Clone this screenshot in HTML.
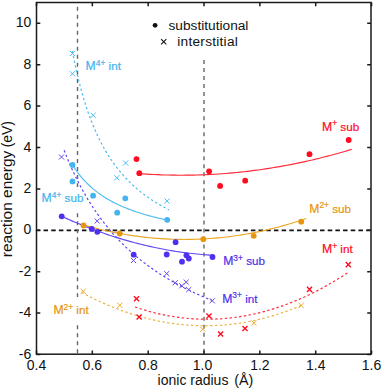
<!DOCTYPE html>
<html><head><meta charset="utf-8"><style>
html,body{margin:0;padding:0;background:#fff;}
svg{display:block;font-family:"Liberation Sans",sans-serif;}
</style></head><body>
<svg width="382" height="389" viewBox="0 0 382 389" fill="#111">
<line x1="35.87" y1="230.3" x2="371.0" y2="230.3" stroke="#111" stroke-width="1.7" stroke-dasharray="4.5 3.18"/>
<line x1="77.5" y1="6.7" x2="77.5" y2="187" stroke="#5a6b6b" stroke-width="1.4" stroke-dasharray="4 4.02"/>
<line x1="77.5" y1="213.3" x2="77.5" y2="354.2" stroke="#5a6b6b" stroke-width="1.4" stroke-dasharray="4 4"/>
<line x1="204" y1="60" x2="204" y2="354.2" stroke="#5a6b6b" stroke-width="1.4" stroke-dasharray="4 4.02"/>
<rect x="50" y="297" width="42" height="28" fill="#fff"/>
<path d="M72.40,51.14 L74.04,59.53 L75.67,67.32 L77.31,74.59 L78.95,81.37 L80.59,87.73 L82.22,93.69 L83.86,99.30 L85.50,104.58 L87.14,109.56 L88.77,114.26 L90.41,118.72 L92.05,122.94 L93.68,126.95 L95.32,130.76 L96.96,134.39 L98.60,137.84 L100.23,141.14 L101.87,144.29 L103.51,147.30 L105.15,150.18 L106.78,152.93 L108.42,155.58 L110.06,158.11 L111.69,160.55 L113.33,162.89 L114.97,165.14 L116.61,167.31 L118.24,169.40 L119.88,171.41 L121.52,173.35 L123.16,175.23 L124.79,177.03 L126.43,178.78 L128.07,180.47 L129.71,182.11 L131.34,183.69 L132.98,185.23 L134.62,186.71 L136.25,188.15 L137.89,189.55 L139.53,190.90 L141.17,192.22 L142.80,193.50 L144.44,194.74 L146.08,195.94 L147.72,197.12 L149.35,198.26 L150.99,199.37 L152.63,200.45 L154.26,201.50 L155.90,202.53 L157.54,203.53 L159.18,204.50 L160.81,205.45 L162.45,206.38 L164.09,207.28 L165.73,208.17 L167.36,209.03 L169.00,209.87" fill="none" stroke="#4cbcf2" stroke-width="1.2" stroke-dasharray="2.4 2.4"/>
<path d="M72.50,164.89 L74.11,167.40 L75.71,169.77 L77.32,172.01 L78.92,174.13 L80.53,176.13 L82.13,178.04 L83.74,179.85 L85.34,181.58 L86.95,183.22 L88.55,184.79 L90.16,186.29 L91.76,187.72 L93.37,189.09 L94.97,190.40 L96.58,191.66 L98.18,192.87 L99.79,194.03 L101.39,195.14 L103.00,196.21 L104.60,197.24 L106.21,198.24 L107.81,199.19 L109.42,200.12 L111.02,201.01 L112.63,201.87 L114.23,202.70 L115.84,203.51 L117.44,204.29 L119.05,205.04 L120.65,205.77 L122.26,206.48 L123.86,207.16 L125.47,207.83 L127.07,208.47 L128.68,209.10 L130.28,209.71 L131.89,210.30 L133.49,210.87 L135.10,211.43 L136.70,211.98 L138.31,212.51 L139.91,213.02 L141.52,213.52 L143.12,214.01 L144.73,214.49 L146.33,214.95 L147.94,215.40 L149.54,215.84 L151.15,216.28 L152.75,216.70 L154.36,217.11 L155.96,217.51 L157.57,217.90 L159.17,218.28 L160.78,218.65 L162.38,219.02 L163.99,219.38 L165.59,219.73 L167.20,220.07" fill="none" stroke="#4cbcf2" stroke-width="1.15"/>
<path d="M139.30,173.62 L142.90,173.88 L146.50,174.12 L150.11,174.33 L153.71,174.52 L157.31,174.69 L160.91,174.83 L164.51,174.95 L168.11,175.05 L171.72,175.12 L175.32,175.17 L178.92,175.20 L182.52,175.21 L186.12,175.19 L189.72,175.15 L193.33,175.08 L196.93,174.99 L200.53,174.88 L204.13,174.75 L207.73,174.59 L211.33,174.41 L214.94,174.21 L218.54,173.98 L222.14,173.73 L225.74,173.46 L229.34,173.16 L232.94,172.84 L236.55,172.50 L240.15,172.13 L243.75,171.74 L247.35,171.33 L250.95,170.89 L254.55,170.43 L258.16,169.95 L261.76,169.45 L265.36,168.92 L268.96,168.37 L272.56,167.79 L276.16,167.19 L279.77,166.57 L283.37,165.93 L286.97,165.26 L290.57,164.57 L294.17,163.86 L297.77,163.12 L301.38,162.36 L304.98,161.57 L308.58,160.77 L312.18,159.94 L315.78,159.09 L319.38,158.21 L322.99,157.31 L326.59,156.39 L330.19,155.44 L333.79,154.47 L337.39,153.48 L340.99,152.46 L344.60,151.43 L348.20,150.36 L351.80,149.28" fill="none" stroke="#ff2a3a" stroke-width="1.15"/>
<path d="M81.00,224.20 L84.82,225.30 L88.64,226.37 L92.46,227.38 L96.27,228.36 L100.09,229.30 L103.91,230.20 L107.73,231.05 L111.55,231.86 L115.37,232.63 L119.19,233.36 L123.01,234.05 L126.82,234.70 L130.64,235.31 L134.46,235.87 L138.28,236.40 L142.10,236.88 L145.92,237.32 L149.74,237.72 L153.55,238.08 L157.37,238.39 L161.19,238.67 L165.01,238.90 L168.83,239.10 L172.65,239.25 L176.47,239.36 L180.28,239.43 L184.10,239.45 L187.92,239.44 L191.74,239.38 L195.56,239.29 L199.38,239.15 L203.20,238.97 L207.02,238.75 L210.83,238.49 L214.65,238.18 L218.47,237.84 L222.29,237.45 L226.11,237.03 L229.93,236.56 L233.75,236.05 L237.56,235.50 L241.38,234.90 L245.20,234.27 L249.02,233.59 L252.84,232.88 L256.66,232.12 L260.48,231.32 L264.29,230.48 L268.11,229.60 L271.93,228.67 L275.75,227.71 L279.57,226.70 L283.39,225.66 L287.21,224.57 L291.03,223.44 L294.84,222.27 L298.66,221.05 L302.48,219.80 L306.30,218.50" fill="none" stroke="#eaa826" stroke-width="1.15"/>
<path d="M61.70,216.32 L64.25,217.49 L66.81,218.63 L69.36,219.76 L71.91,220.87 L74.46,221.96 L77.02,223.03 L79.57,224.09 L82.12,225.13 L84.67,226.15 L87.23,227.16 L89.78,228.15 L92.33,229.12 L94.88,230.07 L97.44,231.01 L99.99,231.93 L102.54,232.83 L105.09,233.72 L107.65,234.58 L110.20,235.43 L112.75,236.27 L115.30,237.08 L117.86,237.88 L120.41,238.66 L122.96,239.43 L125.51,240.17 L128.07,240.90 L130.62,241.61 L133.17,242.31 L135.72,242.98 L138.28,243.64 L140.83,244.29 L143.38,244.91 L145.93,245.52 L148.49,246.11 L151.04,246.68 L153.59,247.24 L156.14,247.78 L158.70,248.30 L161.25,248.80 L163.80,249.29 L166.35,249.76 L168.91,250.21 L171.46,250.65 L174.01,251.07 L176.56,251.47 L179.12,251.85 L181.67,252.22 L184.22,252.56 L186.77,252.90 L189.33,253.21 L191.88,253.51 L194.43,253.79 L196.98,254.05 L199.54,254.29 L202.09,254.52 L204.64,254.73 L207.19,254.92 L209.75,255.10 L212.30,255.26" fill="none" stroke="#6248f0" stroke-width="1.15"/>
<path d="M64.10,150.30 L66.61,156.60 L69.12,162.58 L71.64,168.27 L74.15,173.69 L76.66,178.87 L79.17,183.81 L81.68,188.53 L84.19,193.05 L86.71,197.38 L89.22,201.53 L91.73,205.51 L94.24,209.34 L96.75,213.01 L99.27,216.55 L101.78,219.95 L104.29,223.23 L106.80,226.39 L109.31,229.44 L111.83,232.38 L114.34,235.22 L116.85,237.96 L119.36,240.62 L121.87,243.19 L124.38,245.67 L126.90,248.08 L129.41,250.41 L131.92,252.67 L134.43,254.87 L136.94,257.00 L139.46,259.06 L141.97,261.07 L144.48,263.02 L146.99,264.91 L149.50,266.75 L152.02,268.55 L154.53,270.29 L157.04,271.99 L159.55,273.64 L162.06,275.25 L164.57,276.82 L167.09,278.35 L169.60,279.85 L172.11,281.30 L174.62,282.72 L177.13,284.11 L179.65,285.46 L182.16,286.78 L184.67,288.07 L187.18,289.34 L189.69,290.57 L192.21,291.77 L194.72,292.95 L197.23,294.11 L199.74,295.23 L202.25,296.34 L204.76,297.42 L207.28,298.48 L209.79,299.51 L212.30,300.53" fill="none" stroke="#6248f0" stroke-width="1.2" stroke-dasharray="2.4 2.4"/>
<path d="M135.00,307.04 L138.62,308.24 L142.23,309.38 L145.85,310.45 L149.46,311.46 L153.08,312.41 L156.69,313.30 L160.31,314.13 L163.92,314.89 L167.54,315.59 L171.15,316.23 L174.77,316.81 L178.38,317.33 L182.00,317.79 L185.61,318.18 L189.23,318.51 L192.84,318.78 L196.46,318.99 L200.07,319.14 L203.69,319.22 L207.31,319.25 L210.92,319.21 L214.54,319.11 L218.15,318.95 L221.77,318.73 L225.38,318.45 L229.00,318.10 L232.61,317.70 L236.23,317.23 L239.84,316.70 L243.46,316.11 L247.07,315.46 L250.69,314.74 L254.30,313.97 L257.92,313.13 L261.53,312.24 L265.15,311.28 L268.76,310.26 L272.38,309.18 L275.99,308.04 L279.61,306.84 L283.23,305.57 L286.84,304.25 L290.46,302.86 L294.07,301.42 L297.69,299.91 L301.30,298.34 L304.92,296.71 L308.53,295.02 L312.15,293.27 L315.76,291.45 L319.38,289.58 L322.99,287.65 L326.61,285.65 L330.22,283.59 L333.84,281.48 L337.45,279.30 L341.07,277.06 L344.68,274.76 L348.30,272.40" fill="none" stroke="#ff2a3a" stroke-width="1.2" stroke-dasharray="2.4 2.4"/>
<path d="M81.50,292.41 L85.22,294.39 L88.95,296.31 L92.67,298.16 L96.39,299.96 L100.12,301.70 L103.84,303.37 L107.57,304.99 L111.29,306.54 L115.01,308.04 L118.74,309.47 L122.46,310.85 L126.18,312.16 L129.91,313.41 L133.63,314.60 L137.36,315.73 L141.08,316.80 L144.80,317.81 L148.53,318.76 L152.25,319.65 L155.97,320.48 L159.70,321.25 L163.42,321.96 L167.15,322.60 L170.87,323.19 L174.59,323.72 L178.32,324.18 L182.04,324.59 L185.76,324.93 L189.49,325.22 L193.21,325.44 L196.94,325.60 L200.66,325.71 L204.38,325.75 L208.11,325.73 L211.83,325.65 L215.55,325.51 L219.28,325.31 L223.00,325.05 L226.73,324.73 L230.45,324.35 L234.17,323.91 L237.90,323.40 L241.62,322.84 L245.34,322.22 L249.07,321.53 L252.79,320.79 L256.52,319.99 L260.24,319.12 L263.96,318.19 L267.69,317.21 L271.41,316.16 L275.13,315.05 L278.86,313.89 L282.58,312.66 L286.31,311.37 L290.03,310.02 L293.75,308.61 L297.48,307.14 L301.20,305.61" fill="none" stroke="#ebb03e" stroke-width="1.15" stroke-dasharray="2.4 2.4"/>
<circle cx="72.5" cy="164.9" r="2.9" fill="#44b4ef"/>
<circle cx="72.5" cy="181.4" r="2.9" fill="#44b4ef"/>
<circle cx="93.1" cy="195.7" r="2.9" fill="#44b4ef"/>
<circle cx="125.3" cy="198.3" r="2.9" fill="#44b4ef"/>
<circle cx="117.2" cy="212.7" r="2.9" fill="#44b4ef"/>
<circle cx="167.2" cy="219.8" r="2.9" fill="#44b4ef"/>
<path d="M69.85,50.85 L74.95,55.95 M69.85,55.95 L74.95,50.85" stroke="#4cbcf2" stroke-width="1.0" fill="none"/>
<path d="M69.85,71.15 L74.95,76.25 M69.85,76.25 L74.95,71.15" stroke="#4cbcf2" stroke-width="1.0" fill="none"/>
<path d="M90.65,112.75 L95.75,117.85 M90.65,117.85 L95.75,112.75" stroke="#4cbcf2" stroke-width="1.0" fill="none"/>
<path d="M123.05,160.45 L128.15,165.55 M123.05,165.55 L128.15,160.45" stroke="#4cbcf2" stroke-width="1.0" fill="none"/>
<path d="M114.25,175.25 L119.35,180.35 M114.25,180.35 L119.35,175.25" stroke="#4cbcf2" stroke-width="1.0" fill="none"/>
<path d="M164.55,198.55 L169.65,203.65 M164.55,203.65 L169.65,198.55" stroke="#4cbcf2" stroke-width="1.0" fill="none"/>
<circle cx="136.5" cy="159.1" r="2.9" fill="#ff0a1e"/>
<circle cx="139.3" cy="173.2" r="2.9" fill="#ff0a1e"/>
<circle cx="209.1" cy="171.3" r="2.9" fill="#ff0a1e"/>
<circle cx="220.1" cy="185.9" r="2.9" fill="#ff0a1e"/>
<circle cx="245.2" cy="180.7" r="2.9" fill="#ff0a1e"/>
<circle cx="309.5" cy="154.2" r="2.9" fill="#ff0a1e"/>
<circle cx="348.7" cy="140" r="2.9" fill="#ff0a1e"/>
<path d="M133.95,296.15 L139.05,301.25 M133.95,301.25 L139.05,296.15" stroke="#ff0a1e" stroke-width="1.35" fill="none"/>
<path d="M136.55,314.45 L141.65,319.55 M136.55,319.55 L141.65,314.45" stroke="#ff0a1e" stroke-width="1.35" fill="none"/>
<path d="M206.45,313.45 L211.55,318.55 M206.45,318.55 L211.55,313.45" stroke="#ff0a1e" stroke-width="1.35" fill="none"/>
<path d="M218.05,331.45 L223.15,336.55 M218.05,336.55 L223.15,331.45" stroke="#ff0a1e" stroke-width="1.35" fill="none"/>
<path d="M242.45,325.95 L247.55,331.05 M242.45,331.05 L247.55,325.95" stroke="#ff0a1e" stroke-width="1.35" fill="none"/>
<path d="M306.95,286.85 L312.05,291.95 M306.95,291.95 L312.05,286.85" stroke="#ff0a1e" stroke-width="1.35" fill="none"/>
<path d="M345.75,262.05 L350.85,267.15 M345.75,267.15 L350.85,262.05" stroke="#ff0a1e" stroke-width="1.35" fill="none"/>
<circle cx="83.5" cy="225.5" r="2.9" fill="#e6960c"/>
<circle cx="119.7" cy="233.5" r="2.9" fill="#e6960c"/>
<circle cx="203.3" cy="239.2" r="2.9" fill="#e6960c"/>
<circle cx="253.7" cy="235.8" r="2.9" fill="#e6960c"/>
<circle cx="301.2" cy="221.7" r="2.9" fill="#e6960c"/>
<path d="M80.65,288.75 L85.75,293.85 M80.65,293.85 L85.75,288.75" stroke="#eaa826" stroke-width="1.0" fill="none"/>
<path d="M117.25,302.75 L122.35,307.85 M117.25,307.85 L122.35,302.75" stroke="#eaa826" stroke-width="1.0" fill="none"/>
<path d="M200.25,326.65 L205.35,331.75 M200.25,331.75 L205.35,326.65" stroke="#eaa826" stroke-width="1.0" fill="none"/>
<path d="M251.25,320.45 L256.35,325.55 M251.25,325.55 L256.35,320.45" stroke="#eaa826" stroke-width="1.0" fill="none"/>
<path d="M298.65,302.85 L303.75,307.95 M298.65,307.95 L303.75,302.85" stroke="#eaa826" stroke-width="1.0" fill="none"/>
<circle cx="61.7" cy="216.3" r="2.9" fill="#4f30ee"/>
<circle cx="91.8" cy="228.9" r="2.9" fill="#4f30ee"/>
<circle cx="97.3" cy="231.8" r="2.9" fill="#4f30ee"/>
<circle cx="133.7" cy="254.7" r="2.9" fill="#4f30ee"/>
<circle cx="175.6" cy="242.2" r="2.9" fill="#4f30ee"/>
<circle cx="166.7" cy="254.5" r="2.9" fill="#4f30ee"/>
<circle cx="186.4" cy="255.3" r="2.9" fill="#4f30ee"/>
<circle cx="188.8" cy="258.5" r="2.9" fill="#4f30ee"/>
<circle cx="182" cy="261.7" r="2.9" fill="#4f30ee"/>
<circle cx="212.5" cy="257" r="2.9" fill="#4f30ee"/>
<path d="M58.95,154.45 L64.05,159.55 M58.95,159.55 L64.05,154.45" stroke="#6248f0" stroke-width="1.0" fill="none"/>
<path d="M94.65,218.45 L99.75,223.55 M94.65,223.55 L99.75,218.45" stroke="#6248f0" stroke-width="1.0" fill="none"/>
<path d="M130.95,257.95 L136.05,263.05 M130.95,263.05 L136.05,257.95" stroke="#6248f0" stroke-width="1.0" fill="none"/>
<path d="M164.15,271.05 L169.25,276.15 M164.15,276.15 L169.25,271.05" stroke="#6248f0" stroke-width="1.0" fill="none"/>
<path d="M172.65,280.25 L177.75,285.35 M172.65,285.35 L177.75,280.25" stroke="#6248f0" stroke-width="1.0" fill="none"/>
<path d="M179.25,283.25 L184.35,288.35 M179.25,288.35 L184.35,283.25" stroke="#6248f0" stroke-width="1.0" fill="none"/>
<path d="M183.65,279.55 L188.75,284.65 M183.65,284.65 L188.75,279.55" stroke="#6248f0" stroke-width="1.0" fill="none"/>
<path d="M186.15,287.05 L191.25,292.15 M186.15,292.15 L191.25,287.05" stroke="#6248f0" stroke-width="1.0" fill="none"/>
<path d="M209.75,298.25 L214.85,303.35 M209.75,303.35 L214.85,298.25" stroke="#6248f0" stroke-width="1.0" fill="none"/>
<rect x="36.5" y="2.5" width="334.5" height="351.7" fill="none" stroke="#1a1a1a" stroke-width="1.5"/>
<path d="M36.5,354.50 h3.8 M371.0,354.50 h-3.8 M36.5,313.10 h3.8 M371.0,313.10 h-3.8 M36.5,271.70 h3.8 M371.0,271.70 h-3.8 M36.5,230.30 h3.8 M371.0,230.30 h-3.8 M36.5,188.90 h3.8 M371.0,188.90 h-3.8 M36.5,147.50 h3.8 M371.0,147.50 h-3.8 M36.5,106.10 h3.8 M371.0,106.10 h-3.8 M36.5,64.70 h3.8 M371.0,64.70 h-3.8 M36.5,23.30 h3.8 M371.0,23.30 h-3.8 M36.50,354.2 v-3.8 M36.50,2.5 v3.8 M92.34,354.2 v-3.8 M92.34,2.5 v3.8 M148.18,354.2 v-3.8 M148.18,2.5 v3.8 M204.02,354.2 v-3.8 M204.02,2.5 v3.8 M259.86,354.2 v-3.8 M259.86,2.5 v3.8 M315.70,354.2 v-3.8 M315.70,2.5 v3.8 M371.54,354.2 v-3.8 M371.54,2.5 v3.8" stroke="#1a1a1a" stroke-width="1.5" fill="none"/>
<text x="31.3" y="358.50" text-anchor="end" font-size="14">-6</text>
<text x="31.3" y="317.10" text-anchor="end" font-size="14">-4</text>
<text x="31.3" y="275.70" text-anchor="end" font-size="14">-2</text>
<text x="31.3" y="234.30" text-anchor="end" font-size="14">0</text>
<text x="31.3" y="192.90" text-anchor="end" font-size="14">2</text>
<text x="31.3" y="151.50" text-anchor="end" font-size="14">4</text>
<text x="31.3" y="110.10" text-anchor="end" font-size="14">6</text>
<text x="31.3" y="68.70" text-anchor="end" font-size="14">8</text>
<text x="31.3" y="27.30" text-anchor="end" font-size="14">10</text>
<text x="36.50" y="370.4" text-anchor="middle" font-size="14">0.4</text>
<text x="92.34" y="370.4" text-anchor="middle" font-size="14">0.6</text>
<text x="148.18" y="370.4" text-anchor="middle" font-size="14">0.8</text>
<text x="202.52" y="370.4" text-anchor="middle" font-size="14">1.0</text>
<text x="259.86" y="370.4" text-anchor="middle" font-size="14">1.2</text>
<text x="315.70" y="370.4" text-anchor="middle" font-size="14">1.4</text>
<text x="371.54" y="370.4" text-anchor="middle" font-size="14">1.6</text>
<text transform="translate(11.6,257.2) rotate(-90)" font-size="14" textLength="106.5" lengthAdjust="spacingAndGlyphs">reaction energy</text>
<text transform="translate(11.6,147.3) rotate(-90)" font-size="14" textLength="26.3" lengthAdjust="spacingAndGlyphs">(eV)</text>
<text x="157.6" y="384.5" font-size="14" textLength="70.8" lengthAdjust="spacingAndGlyphs">ionic radius</text>
<text x="234.2" y="384.5" font-size="14.3">(Å)</text>
<circle cx="155.1" cy="25.3" r="2.4" fill="#111"/>
<path d="M161.1,39.2 L166.3,44.4 M161.1,44.4 L166.3,39.2" stroke="#111" stroke-width="1.1"/>
<text x="168.5" y="29.8" font-size="13.7">substitutional</text>
<text x="177.3" y="45.8" font-size="13.7" textLength="60.5" lengthAdjust="spacing">interstitial</text>
<text x="85.6" y="69.9" font-size="12.2" fill="#44b4ef" stroke="#44b4ef" stroke-width="0.2">M<tspan font-size="8.4" dy="-4.4">4+</tspan><tspan dy="4.4" font-size="11.7"> int</tspan></text>
<text x="41.6" y="202" font-size="12.2" fill="#44b4ef" stroke="#44b4ef" stroke-width="0.2">M<tspan font-size="8.4" dy="-4.4">4+</tspan><tspan dy="4.4" font-size="11.7"> sub</tspan></text>
<text x="322" y="130.8" font-size="12.2" fill="#ff0a1e" stroke="#ff0a1e" stroke-width="0.2">M<tspan font-size="8.4" dy="-4.4">+</tspan><tspan dy="4.4" font-size="11.7"> sub</tspan></text>
<text x="309.3" y="212.8" font-size="12.2" fill="#e6960c" stroke="#e6960c" stroke-width="0.2">M<tspan font-size="8.4" dy="-4.4">2+</tspan><tspan dy="4.4" font-size="11.7"> sub</tspan></text>
<text x="223.2" y="265.2" font-size="12.2" fill="#4f30ee" stroke="#4f30ee" stroke-width="0.2">M<tspan font-size="8.4" dy="-4.4">3+</tspan><tspan dy="4.4" font-size="11.7"> sub</tspan></text>
<text x="222.2" y="302.5" font-size="12.2" fill="#4f30ee" stroke="#4f30ee" stroke-width="0.2">M<tspan font-size="8.4" dy="-4.4">3+</tspan><tspan dy="4.4" font-size="11.7"> int</tspan></text>
<text x="322" y="253" font-size="12.2" fill="#ff0a1e" stroke="#ff0a1e" stroke-width="0.2">M<tspan font-size="8.4" dy="-4.4">+</tspan><tspan dy="4.4" font-size="11.7"> int</tspan></text>
<text x="53.4" y="314" font-size="12.2" fill="#e6960c" stroke="#e6960c" stroke-width="0.2">M<tspan font-size="8.4" dy="-4.4">2+</tspan><tspan dy="4.4" font-size="11.7"> int</tspan></text>
</svg></body></html>
